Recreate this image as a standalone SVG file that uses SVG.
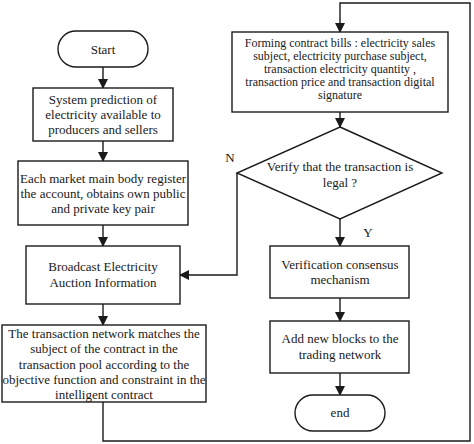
<svg xmlns="http://www.w3.org/2000/svg" width="474" height="444" viewBox="0 0 474 444">
<defs>
<marker id="arr" markerWidth="10" markerHeight="10" refX="9" refY="5" orient="auto" markerUnits="userSpaceOnUse">
<path d="M0,0 L10,5 L0,10 Z" fill="#1a1a1a"/>
</marker>
<style>
.n{fill:#fff;stroke:#1a1a1a;stroke-width:1.4}
.c{fill:none;stroke:#1a1a1a;stroke-width:1.4}
text{font-family:"Liberation Serif","Times New Roman",serif;font-size:13px;fill:#1a1a1a;text-anchor:middle}
.s{font-size:12px}
</style>
</defs>
<rect width="474" height="444" fill="#fff"/>
<g id="connectors">
<line class="c" x1="103" y1="67" x2="103" y2="88" marker-end="url(#arr)"/>
<line class="c" x1="103" y1="141" x2="103" y2="161" marker-end="url(#arr)"/>
<line class="c" x1="103" y1="225" x2="103" y2="246" marker-end="url(#arr)"/>
<line class="c" x1="103" y1="304" x2="103" y2="325" marker-end="url(#arr)"/>
<polyline class="c" points="103,402 103,441 470,441 470,3 340,3 340,32" marker-end="url(#arr)"/>
<line class="c" x1="340" y1="112" x2="340" y2="127" marker-end="url(#arr)"/>
<polyline class="c" points="237,173 237,275 180,275" marker-end="url(#arr)"/>
<line class="c" x1="340" y1="219" x2="340" y2="246" marker-end="url(#arr)"/>
<line class="c" x1="340" y1="298" x2="340" y2="321" marker-end="url(#arr)"/>
<line class="c" x1="340" y1="373" x2="340" y2="395" marker-end="url(#arr)"/>
<text x="230" y="162">N</text>
<text x="368" y="237">Y</text>
</g>
<g id="start">
<rect class="n" x="58" y="31" width="90" height="36" rx="18"/>
<text x="103" y="54">Start</text>
</g>
<g id="predict">
<rect class="n" x="33" y="88" width="140" height="53"/>
<text x="103" y="104">System prediction of</text>
<text x="103" y="119">electricity available to</text>
<text x="103" y="134">producers and sellers</text>
</g>
<g id="register">
<rect class="n" x="18" y="161" width="170" height="64"/>
<text x="103" y="183">Each market main body register</text>
<text x="103" y="198">the account, obtains own public</text>
<text x="103" y="213">and private key pair</text>
</g>
<g id="broadcast">
<rect class="n" x="26" y="246" width="154" height="58"/>
<text x="103" y="271">Broadcast Electricity</text>
<text x="103" y="287">Auction Information</text>
</g>
<g id="match">
<rect class="n" x="2" y="325" width="204" height="77"/>
<text x="104" y="338">The transaction network matches the</text>
<text x="104" y="353">subject of the contract in the</text>
<text x="104" y="369">transaction pool according to the</text>
<text x="104" y="384">objective function and constraint in the</text>
<text x="104" y="399">intelligent contract</text>
</g>
<g id="contract">
<rect class="n" x="232" y="32" width="216" height="80"/>
<text class="s" x="340" y="47">Forming contract bills : electricity sales</text>
<text class="s" x="340" y="60">subject, electricity purchase subject,</text>
<text class="s" x="340" y="73">transaction electricity quantity ,</text>
<text class="s" x="340" y="86">transaction price and transaction digital</text>
<text class="s" x="340" y="99">signature</text>
</g>
<g id="verify">
<polygon class="n" points="340,127 442,173 340,219 237,173"/>
<text x="340" y="171">Verify that the transaction is</text>
<text x="340" y="187">legal ?</text>
</g>
<g id="consensus">
<rect class="n" x="270" y="246" width="139" height="52"/>
<text x="340" y="269">Verification consensus</text>
<text x="340" y="284">mechanism</text>
</g>
<g id="addblocks">
<rect class="n" x="270" y="321" width="139" height="52"/>
<text x="340" y="343">Add new blocks to the</text>
<text x="340" y="359">trading network</text>
</g>
<g id="end">
<rect class="n" x="295" y="395" width="90" height="36" rx="18"/>
<text x="340" y="417">end</text>
</g>
</svg>
